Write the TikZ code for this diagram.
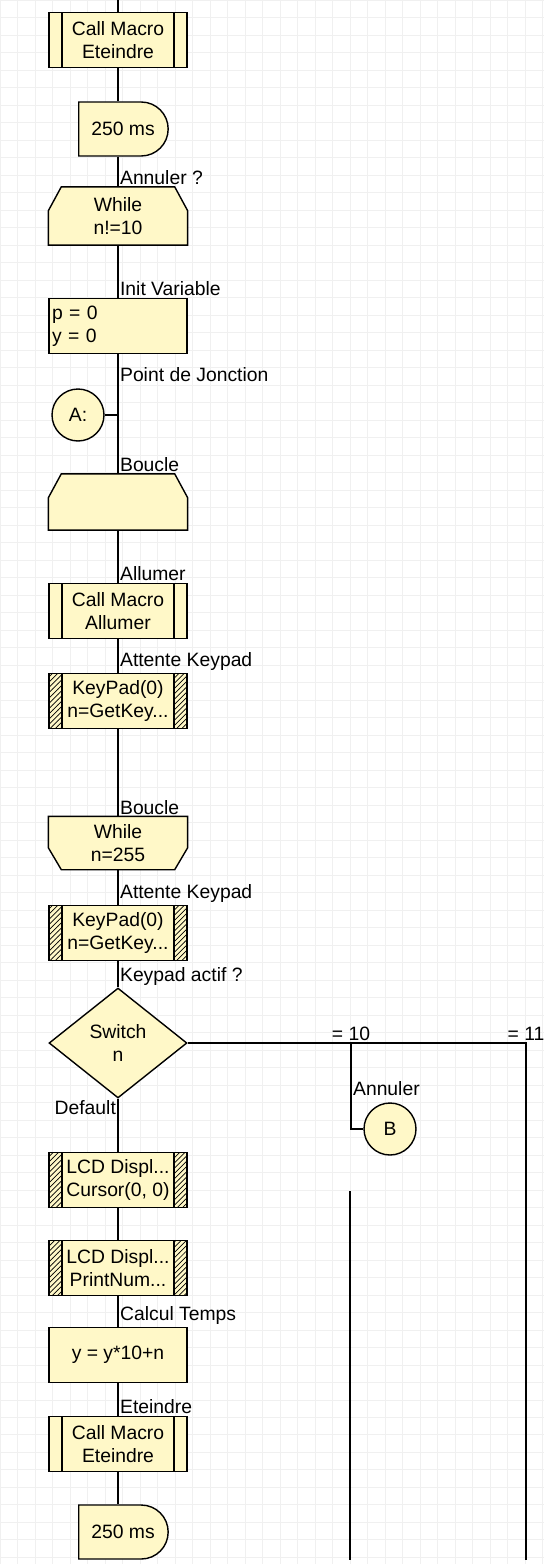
\documentclass[tikz,border=0pt]{standalone}
\usepackage{fontspec}
\setmainfont{Liberation Sans}
\usetikzlibrary{shapes.geometric,shapes.misc,patterns,positioning,backgrounds}
\definecolor{flowfill}{RGB}{255,248,200}
\newcommand{\flowfont}{\fontsize{11}{13}\selectfont}
\tikzset{
  flow/.style={draw, fill=flowfill, line width=0.8pt, minimum width=2.76cm, minimum height=1.1cm, inner sep=1pt, align=center, font=\flowfont},
  macrobox/.style={flow, path picture={
    \draw[line width=0.8pt] ([xshift=0.26cm]path picture bounding box.north west) -- ([xshift=0.26cm]path picture bounding box.south west);
    \draw[line width=0.8pt] ([xshift=-0.26cm]path picture bounding box.north east) -- ([xshift=-0.26cm]path picture bounding box.south east);}},
  compbox/.style={flow, path picture={
    \draw[line width=0.8pt, pattern=north east lines] (path picture bounding box.north west) rectangle ([xshift=0.26cm]path picture bounding box.south west);
    \draw[line width=0.8pt, pattern=north east lines] (path picture bounding box.north east) rectangle ([xshift=-0.26cm]path picture bounding box.south east);}},
  delaybox/.style={flow, rounded rectangle, rounded rectangle left arc=none, minimum width=1.86cm, minimum height=1.08cm},
  loopbox/.style={flow, draw=none, fill=none},
  loopline/.style={draw, fill=flowfill, line width=0.8pt, line join=miter},
  switchbox/.style={flow, diamond, minimum height=2.2cm},
  jct/.style={draw, fill=flowfill, circle, line width=0.8pt, minimum size=1.04cm, inner sep=0pt, font=\flowfont},
  lbl/.style={anchor=south west, inner sep=1pt, font=\flowfont},
  wire/.style={line width=0.9pt},
  gridline/.style={black!6, line width=0.3pt},
}
\begin{document}
\begin{tikzpicture}[x=0.02cm, y=-0.02cm]
\useasboundingbox (0,0) rectangle (544,1564);
\begin{scope}[on background layer]
\draw[gridline, step=0.35cm] (0,0) grid (544,1564);
\end{scope}

% blocks
\coordinate (top) at (118,0);
\node[macrobox] (mac1) at (118,40) {Call Macro\\Eteindre};
\node[delaybox] (del1) at (123,129) {250 ms};
\node[loopbox, minimum height=1.14cm] (whl1) at (118,216) {While\\n!=10};
\node[flow, text width=2.64cm, align=left, inner xsep=0.06cm] (init) at (118,326) {p = 0\\y = 0};
\node[jct] (jctA) at (78,415) {A:};
\node[loopbox] (endl1) at (118,502) {};
\node[macrobox] (mac2) at (118,611) {Call Macro\\Allumer};
\node[compbox] (key1) at (118,701) {KeyPad(0)\\n=GetKey...};
\node[loopbox, minimum height=1.04cm] (whl2) at (118,843) {While\\n=255};
\node[compbox] (key2) at (118,933) {KeyPad(0)\\n=GetKey...};
\node[switchbox] (sw) at (118,1043) {Switch\\n};
\node[jct] (jctB) at (390,1129) {B};
\node[compbox] (lcd1) at (118,1180) {LCD Displ...\\Cursor(0, 0)};
\node[compbox] (lcd2) at (118,1268) {LCD Displ...\\PrintNum...};
\node[flow] (calc) at (118,1355) {y = y*10+n};
\node[macrobox] (mac3) at (118,1444) {Call Macro\\Eteindre};
\node[delaybox] (del2) at (123,1532) {250 ms};

% loop outlines, cut corners
\begin{scope}[on background layer]
\draw[loopline] (whl1.south west) -- ([yshift=-0.48cm]whl1.north west) -- ([xshift=0.26cm]whl1.north west)
  -- ([xshift=-0.26cm]whl1.north east) -- ([yshift=-0.48cm]whl1.north east) -- (whl1.south east) -- cycle;
\draw[loopline] (endl1.south west) -- ([yshift=-0.48cm]endl1.north west) -- ([xshift=0.26cm]endl1.north west)
  -- ([xshift=-0.26cm]endl1.north east) -- ([yshift=-0.48cm]endl1.north east) -- (endl1.south east) -- cycle;
\draw[loopline] (whl2.north west) -- ([yshift=0.44cm]whl2.south west) -- ([xshift=0.26cm]whl2.south west)
  -- ([xshift=-0.26cm]whl2.south east) -- ([yshift=0.44cm]whl2.south east) -- (whl2.north east) -- cycle;
\end{scope}

% free ends
\coordinate (jA) at (jctA -| init);
\coordinate (c10) at (351,1043);
\coordinate (c11) at (526,1043);
\coordinate (c11end) at (526,1560);
\coordinate (c10top) at (350,1191);
\coordinate (c10end) at (350,1560);

% wires
\draw[wire] (top) -- (mac1);
\draw[wire] (mac1) -- (mac1.south |- del1.north);
\draw[wire] (del1.south -| whl1) -- (whl1.north);
\draw[wire] (whl1.south) -- (init);
\draw[wire] (init) -- (endl1.north);
\draw[wire] (jctA) -- (jA);
\draw[wire] (endl1.south) -- (mac2);
\draw[wire] (mac2) -- (key1);
\draw[wire] (key1) -- (whl2.north);
\draw[wire] (whl2.south) -- (key2);
\draw[wire] (key2) -- (sw);
\draw[wire] (sw) -- (lcd1);
\draw[wire] (lcd1) -- (lcd2);
\draw[wire] (lcd2) -- (calc);
\draw[wire] (calc) -- (mac3);
\draw[wire] (mac3) -- (mac3.south |- del2.north);
\draw[wire] (sw.east) -- (c11) -- (c11end);
\draw[wire] (c10) |- (jctB);
\draw[wire] (c10top) -- (c10end);

% labels
\node[lbl] (lblcancel) at (whl1.north) {Annuler ?};
\node[lbl] (lblinit) at (init.north) {Init Variable};
\node[lbl] (lbljct) at ([yshift=0.1cm]jctA.north -| init.south) {Point de Jonction};
\node[lbl] (lblloop1) at (endl1.north) {Boucle};
\node[lbl] (lblon) at (mac2.north) {Allumer};
\node[lbl] (lblwait1) at (key1.north) {Attente Keypad};
\node[lbl] (lblloop2) at (whl2.north) {Boucle};
\node[lbl] (lblwait2) at (key2.north) {Attente Keypad};
\node[lbl] (lblkey) at (sw.north) {Keypad actif ?};
\node[lbl, anchor=north east] (lbldef) at (sw.south) {Default};
\node[lbl, anchor=south] (lbl10) at (c10) {= 10};
\node[lbl, anchor=south] (lbl11) at (c11) {= 11};
\node[lbl] (lblcancel2) at ([yshift=0.1cm]jctB.north -| c10) {Annuler};
\node[lbl] (lblcalc) at (calc.north) {Calcul Temps};
\node[lbl] (lbloff) at (mac3.north) {Eteindre};
\end{tikzpicture}
\end{document}
